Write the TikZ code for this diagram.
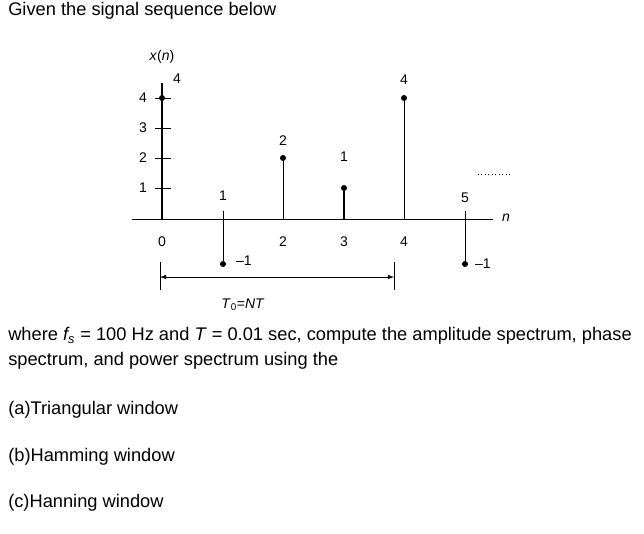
\documentclass[tikz,border=0pt]{standalone}
\usepackage{fontspec}
\setmainfont{Liberation Sans}
\begin{document}
\begin{tikzpicture}[x=0.75pt,y=-0.75pt,
  txt/.style={font=\fontsize{13.7}{16}\selectfont,anchor=west,inner sep=0pt},
  lab/.style={font=\fontsize{10.5}{12}\selectfont,inner sep=0pt},
  dot/.style={circle,fill=black,inner sep=0pt,minimum size=4.5pt},
  stem/.style={line width=0.6pt}]
\useasboundingbox (0,0) rectangle (644,534);
\node[txt] (t1) at (8,11) {Given the signal sequence below};
% axes
\coordinate (xl) at (132,219); \coordinate (xr) at (493,219);
\draw[line width=0.6pt] (xl) -- (xr);
\coordinate (yb) at (162,219); \coordinate (yt) at (162,83);
\draw[line width=1.1pt] (yb) -- (yt);
\foreach \v/\yy in {1/188,2/158,3/128,4/98}{
  \draw[line width=0.6pt] (155,\yy) -- (171,\yy);
  \node[lab] (tk\v) at (143,\yy) {\v};}
\node[lab] (xn) at (162,57) {\textit{x}(\textit{n})};
\node[lab] (top4) at (177,79) {4};
\node[lab] (nl) at (506,218) {\textit{n}};
\node[dot] (d0) at (162,98) {};
% samples
\coordinate (b1) at (223,211); \node[dot] (d1) at (223,264) {};
\draw[stem] (b1) -- (d1);
\coordinate (b2) at (283,219); \node[dot] (d2) at (283,158) {};
\draw[stem] (b2) -- (d2);
\coordinate (b3) at (344,219); \node[dot] (d3) at (344,188) {};
\draw[line width=0.9pt] (b3) -- (d3);
\coordinate (b4) at (404,219); \node[dot] (d4) at (404,98) {};
\draw[stem] (b4) -- (d4);
\coordinate (b5) at (465,211); \node[dot] (d5) at (465,264) {};
\draw[stem] (b5) -- (d5);
\node[lab] (l1) at (223,196) {1};
\node[lab] (l5) at (465,198) {5};
\node[lab] (l2) at (283,141) {2};
\node[lab] (l3) at (344,157) {1};
\node[lab] (l4) at (404,80) {4};
\node[lab] (m1) at (244,261) {–1};
\node[lab] (m5) at (483,264) {–1};
\node[lab] (a0) at (162,242) {0};
\node[lab] (a2) at (283,242) {2};
\node[lab] (a3) at (344,242) {3};
\node[lab] (a4) at (404,242) {4};
\draw[line width=0.6pt,dotted] (478,174) -- (512,174);
% period arrow
\coordinate (p0) at (160,277); \coordinate (p1) at (394,277);
\draw[line width=0.6pt] (160,262) -- (160,290);
\draw[line width=0.6pt] (394,262) -- (394,290);
\draw[line width=0.6pt,<->,>=latex] (p0) -- (p1);
\node[lab] (T0) at (243,305) {\textit{T}\textsubscript{0}=\textit{NT}};
% text
\node[txt] (t2) at (8,336) {where \textit{f\textsubscript{s}} = 100 Hz and \textit{T} = 0.01 sec, compute the amplitude spectrum, phase};
\node[txt] (t3) at (8,361) {spectrum, and power spectrum using the};
\node[txt] (t4) at (8,410) {(a)Triangular window};
\node[txt] (t5) at (8,457) {(b)Hamming window};
\node[txt] (t6) at (8,503) {(c)Hanning window};
\end{tikzpicture}
\end{document}
